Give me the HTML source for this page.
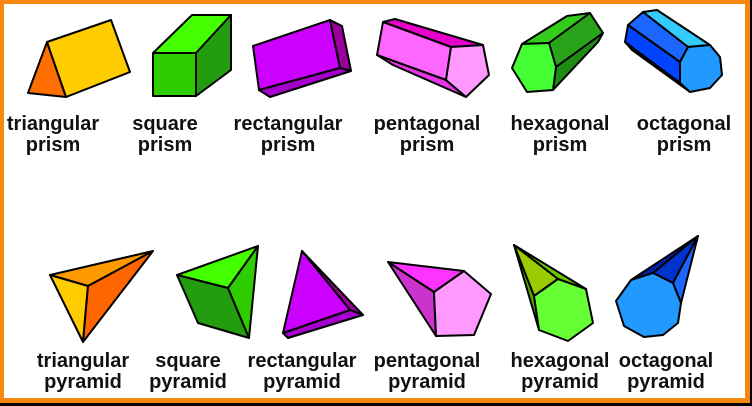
<!DOCTYPE html>
<html><head><meta charset="utf-8"><style>
html,body{margin:0;padding:0;background:#000;}
svg{display:block}
text{font-family:"Liberation Sans",Arial,sans-serif;font-weight:bold;font-size:20px;fill:#111;text-anchor:middle}
</style></head><body>
<svg width="752" height="406" viewBox="0 0 752 406" xmlns="http://www.w3.org/2000/svg">
<rect x="0" y="0" width="750" height="403" fill="#f7870e"/>
<rect x="4" y="4" width="741" height="394" fill="#fff"/>
<g stroke="#000" stroke-width="2" stroke-linejoin="round">
<polygon points="28,93 47,42 66,97" fill="#ff6f00"/>
<polygon points="47,42 111,20 130,72 66,97" fill="#ffcc00"/>
<polygon points="153,53 192,15 231,15 196,53" fill="#44ff00"/>
<polygon points="196,53 231,15 231,70 196,96" fill="#239c10"/>
<polygon points="153,53 196,53 196,96 153,96" fill="#2fcc00"/>
<polygon points="253,46 330,20 340,68 259,90" fill="#cc00ff"/>
<polygon points="330,20 342,26 351,71 340,68" fill="#99009c"/>
<polygon points="259,90 340,68 351,71 270,97" fill="#a600cc"/>
<polygon points="383,22 395,19 483,45 451,47" fill="#e600cc"/>
<polygon points="383,22 451,47 446,80 377,55" fill="#ff66ff"/>
<polygon points="377,55 446,80 466,97 393,65" fill="#e633e6"/>
<polygon points="451,47 483,45 489,75 466,97 446,80" fill="#ff99ff"/>
<!-- hexagonal prism -->
<polygon points="522,44 567,16 590,13 549,43" fill="#33cc1a"/>
<polygon points="549,43 590,13 603,33 556,67" fill="#29a31a"/>
<polygon points="556,67 603,33 598,42 553,90" fill="#1f8a14"/>
<polygon points="522,44 549,43 556,67 553,90 527,92 512,68" fill="#44ff33"/>
<!-- octagonal prism -->
<polygon points="643,12 657,10 710,45 688,47" fill="#33ccff"/>
<polygon points="628,25 643,12 688,47 680,62" fill="#1a66ff"/>
<polygon points="628,25 680,62 680,83 625,42" fill="#0044ff"/>
<polygon points="625,42 680,83 690,92 632,50" fill="#002299"/>
<polygon points="688,47 710,45 720,57 722,75 710,88 690,92 680,83 680,62" fill="#2299ff"/>
<polygon points="50,275 153,251 88,286" fill="#ff9900"/>
<polygon points="50,275 88,286 83,342" fill="#ffcc00"/>
<polygon points="88,286 153,251 83,342" fill="#ff6600"/>
<polygon points="177,275 258,246 228,288" fill="#44ff00"/>
<polygon points="177,275 228,288 249,338 198,323" fill="#239c10"/>
<polygon points="228,288 258,246 249,338" fill="#2fcc00"/>
<polygon points="302,251 363,315 350,310" fill="#99009c"/>
<polygon points="283,333 350,310 363,315 288,338" fill="#a600cc"/>
<polygon points="302,251 283,333 350,310" fill="#cc00ff"/>
<polygon points="388,262 464,271 434,292" fill="#ff33ff"/>
<polygon points="388,262 434,292 436,336" fill="#cc33cc"/>
<polygon points="434,292 464,271 491,294 474,335 436,336" fill="#ff99ff"/>
<polygon points="514,245 558,279 586,289" fill="#66cc00"/>
<polygon points="514,245 558,279 534,296" fill="#99cc00"/>
<polygon points="514,245 534,296 539,330" fill="#55aa00"/>
<polygon points="534,296 558,279 586,289 593,323 568,341 539,330" fill="#66ff33"/>
<polygon points="698,236 631,280 653,273" fill="#0022aa"/>
<polygon points="698,236 653,273 673,283" fill="#0033cc"/>
<polygon points="698,236 673,283 681,303" fill="#1a66ff"/>
<polygon points="631,280 653,273 673,283 681,303 678,323 663,335 644,337 624,326 616,301" fill="#2299ff"/>
</g>
<text x="53" y="130">triangular</text><text x="53" y="151">prism</text>
<text x="165" y="130">square</text><text x="165" y="151">prism</text>
<text x="288" y="130">rectangular</text><text x="288" y="151">prism</text>
<text x="427" y="130">pentagonal</text><text x="427" y="151">prism</text>
<text x="560" y="130">hexagonal</text><text x="560" y="151">prism</text>
<text x="684" y="130">octagonal</text><text x="684" y="151">prism</text>
<text x="83" y="367">triangular</text><text x="83" y="388">pyramid</text>
<text x="188" y="367">square</text><text x="188" y="388">pyramid</text>
<text x="302" y="367">rectangular</text><text x="302" y="388">pyramid</text>
<text x="427" y="367">pentagonal</text><text x="427" y="388">pyramid</text>
<text x="560" y="367">hexagonal</text><text x="560" y="388">pyramid</text>
<text x="666" y="367">octagonal</text><text x="666" y="388">pyramid</text>
</svg>
</body></html>
